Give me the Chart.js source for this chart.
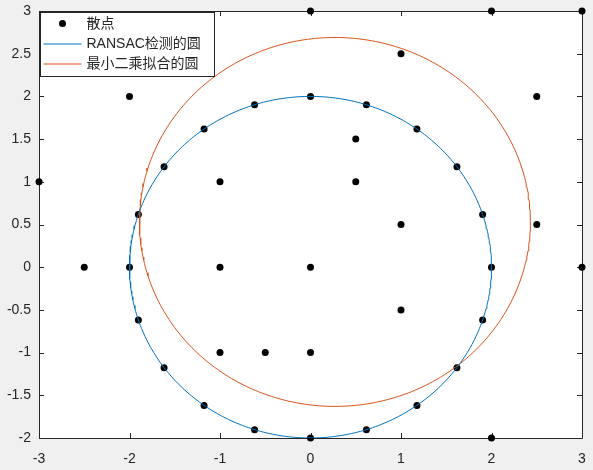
<!DOCTYPE html>
<html>
<head>
<meta charset="utf-8">
<script src="https://cdn.jsdelivr.net/npm/chart.js@4/dist/chart.umd.min.js"></script>
<style>
  html, body { margin: 0; padding: 0; background: #f0f0f0; }
  #wrap { width: 593px; height: 470px; }
</style>
</head>
<body>
<div id="wrap"><canvas id="c" width="593" height="470"></canvas></div>
<script>
// scatter points (x, y)
var pointsX = [0, 2, 3, 1, -2, 0, 2.5, 0.5, 0.5, -1, -3, 1, 2.5, -2.5, -1, 0, 3, 1, -1, -0.5, 0, 2,
  0.618, 1.176, 1.618, 1.902, 2, 1.902, 1.618, 1.176, 0.618, 0, -0.618, -1.176, -1.618, -1.902, -2, -1.902, -1.618, -1.176, -0.618];
var pointsY = [3, 3, 3, 2.5, 2, 2, 2, 1.5, 1, 1, 1, 0.5, 0.5, 0, 0, 0, 0, -0.5, -1, -1, -1, -2,
  1.902, 1.618, 1.176, 0.618, 0, -0.618, -1.176, -1.618, -1.902, -2, -1.902, -1.618, -1.176, -0.618, 0, 0.618, 1.176, 1.618, 1.902];

// fitted circles: [centerX, centerY, radius]
var ransacCircle = [0, 0, 2];
var lsqCircle = [0.27, 0.53, 2.16];

var xTicks = [-3, -2, -1, 0, 1, 2, 3];
var yTicks = [-2, -1.5, -1, -0.5, 0, 0.5, 1, 1.5, 2, 2.5, 3];

var labels = ['散点', 'RANSAC检测的圆', '最小二乘拟合的圆'];
var colors = ['#000000', '#0072BD', '#D95319'];

var axisColor = '#262626';
var fontFam = '"Liberation Sans", Arial, "Noto Sans CJK SC", sans-serif';

function circlePts(c) {
  var pts = [];
  for (var i = 0; i <= 360; i++) {
    var t = i * Math.PI / 180;
    pts.push({ x: c[0] + c[2] * Math.cos(t), y: c[1] + c[2] * Math.sin(t) });
  }
  return pts;
}

var scatterData = pointsX.map(function(x, i) { return { x: x, y: pointsY[i] }; });

var framePlugin = {
  id: 'frame',
  beforeDraw: function(chart) {
    var ctx = chart.ctx, a = chart.chartArea;
    ctx.save();
    ctx.fillStyle = '#f0f0f0';
    ctx.fillRect(0, 0, chart.width, chart.height);
    ctx.fillStyle = '#ffffff';
    ctx.fillRect(a.left, a.top, a.right - a.left, a.bottom - a.top);
    ctx.restore();
  },
  beforeDatasetsDraw: function(chart) {
    var ctx = chart.ctx, a = chart.chartArea;
    var xs = chart.scales.x, ys = chart.scales.y;
    ctx.save();
    ctx.strokeStyle = axisColor;
    ctx.lineWidth = 1;
    ctx.beginPath();
    ctx.rect(Math.round(a.left) + 0.5, Math.round(a.top) + 0.5, Math.round(a.right - a.left), Math.round(a.bottom - a.top));
    var tl = 5;
    xTicks.forEach(function(v) {
      var px = Math.round(xs.getPixelForValue(v)) + 0.5;
      ctx.moveTo(px, a.bottom); ctx.lineTo(px, a.bottom - tl);
      ctx.moveTo(px, a.top); ctx.lineTo(px, a.top + tl);
    });
    yTicks.forEach(function(v) {
      var py = Math.round(ys.getPixelForValue(v)) + 0.5;
      ctx.moveTo(a.left, py); ctx.lineTo(a.left + tl, py);
      ctx.moveTo(a.right, py); ctx.lineTo(a.right - tl, py);
    });
    ctx.stroke();
    ctx.restore();
  },
  afterDatasetsDraw: function(chart) {
    var ctx = chart.ctx, a = chart.chartArea;
    var bx = Math.round(a.left) + 1.5, by = Math.round(a.top) + 1.5, bw = 174, bh = 64;
    ctx.save();
    ctx.fillStyle = '#ffffff';
    ctx.fillRect(bx, by, bw, bh);
    ctx.strokeStyle = axisColor;
    ctx.lineWidth = 1;
    ctx.strokeRect(bx, by, bw, bh);
    ctx.font = '14px ' + fontFam;
    ctx.textBaseline = 'middle';
    ctx.textAlign = 'left';
    for (var i = 0; i < labels.length; i++) {
      var cy = by + 11 + i * 20;
      if (i === 0) {
        ctx.fillStyle = colors[0];
        ctx.beginPath();
        ctx.arc(bx + 22, cy, 3.5, 0, Math.PI * 2);
        ctx.fill();
      } else {
        ctx.strokeStyle = colors[i];
        ctx.beginPath();
        ctx.moveTo(bx + 3, cy + 0.5);
        ctx.lineTo(bx + 41, cy + 0.5);
        ctx.stroke();
      }
      ctx.fillStyle = axisColor;
      ctx.fillText(labels[i], bx + 46, cy + 1);
    }
    ctx.restore();
  }
};

new Chart(document.getElementById('c'), {
  type: 'scatter',
  data: {
    datasets: [
      { label: labels[1], data: circlePts(ransacCircle), showLine: true, borderColor: colors[1], borderWidth: 1, pointRadius: 0, fill: false },
      { label: labels[2], data: circlePts(lsqCircle), showLine: true, borderColor: colors[2], borderWidth: 1, pointRadius: 0, fill: false },
      { label: labels[0], data: scatterData, backgroundColor: colors[0], borderColor: colors[0], pointRadius: 3.5, borderWidth: 0, clip: false }
    ]
  },
  options: {
    responsive: false,
    animation: false,
    layout: { padding: { top: 11, right: 11, left: 0, bottom: 0 } },
    plugins: { legend: { display: false }, tooltip: { enabled: false } },
    scales: {
      x: {
        type: 'linear', min: -3, max: 3,
        afterFit: function(s) { s.height = 32; s.paddingLeft = 0; s.paddingRight = 0; },
        afterBuildTicks: function(s) { s.ticks = xTicks.map(function(v) { return { value: v }; }); },
        grid: { display: false, drawTicks: false },
        border: { display: false },
        ticks: { color: axisColor, padding: 13, maxRotation: 0, font: { family: fontFam, size: 14 },
          callback: function(v) { return String(v); } }
      },
      y: {
        type: 'linear', min: -2, max: 3,
        afterFit: function(s) { s.width = 39; s.paddingTop = 0; s.paddingBottom = 0; },
        afterBuildTicks: function(s) { s.ticks = yTicks.map(function(v) { return { value: v }; }); },
        grid: { display: false, drawTicks: false },
        border: { display: false },
        ticks: { color: axisColor, padding: 8, font: { family: fontFam, size: 14 },
          callback: function(v) { return String(v); } }
      }
    }
  },
  plugins: [framePlugin]
});
</script>
</body>
</html>
